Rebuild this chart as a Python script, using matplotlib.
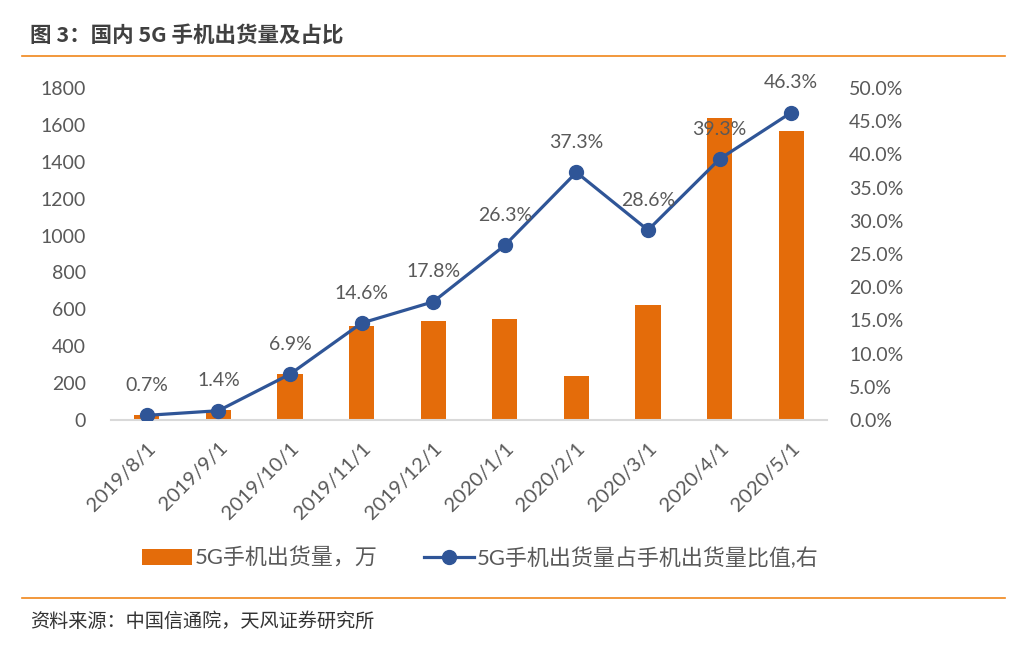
import matplotlib
matplotlib.use("Agg")
import matplotlib.pyplot as plt
from matplotlib.lines import Line2D
from matplotlib.patches import Patch
from matplotlib.ticker import FuncFormatter, MultipleLocator

plt.rcParams['font.family'] = ['Lato', 'Noto Sans CJK SC', 'DejaVu Sans']

categories = ["2019/8/1", "2019/9/1", "2019/10/1", "2019/11/1", "2019/12/1",
              "2020/1/1", "2020/2/1", "2020/3/1", "2020/4/1", "2020/5/1"]
shipments = [27, 52, 249, 507, 538, 546, 236, 622, 1639, 1567]
share_pct = [0.7, 1.4, 6.9, 14.6, 17.8, 26.3, 37.3, 28.6, 39.3, 46.3]

title = "图 3：国内 5G 手机出货量及占比"
source = "资料来源：中国信通院，天风证券研究所"
bar_label = "5G手机出货量，万"
line_label = "5G手机出货量占手机出货量比值,右"

ORANGE = "#E46C0A"
BLUE = "#2F5597"
GRAY = "#595959"
SEP = "#F0861A"

fig = plt.figure(figsize=(10.24, 6.47), dpi=100)
ax = fig.add_axes([111/1024, 1-420/647, (827-111)/1024, (420-88)/647])
x = list(range(len(categories)))
ax.bar(x, shipments, width=0.35, color=ORANGE, zorder=2)
ax.set_xlim(-0.5, len(categories)-0.5)
ax.set_ylim(0, 1800)
ax.yaxis.set_major_locator(MultipleLocator(200))
for s in ['top', 'left', 'right']:
    ax.spines[s].set_visible(False)
ax.spines['bottom'].set_color('#D9D9D9')
ax.spines['bottom'].set_linewidth(1.5)
ax.tick_params(axis='both', length=0, labelsize=14, labelcolor=GRAY)
ax.tick_params(axis='y', pad=18)
ax.set_xticks(x)
ax.set_xticklabels(categories, rotation=45, ha='right', va='top', rotation_mode='anchor')
ax.tick_params(axis='x', pad=14, labelsize=14.5)

ax2 = ax.twinx()
ax2.plot(x, [v/100 for v in share_pct], color=BLUE, lw=2.3, marker='o', markersize=10, zorder=3)
ax2.set_ylim(0, 0.5)
ax2.yaxis.set_major_locator(MultipleLocator(0.05))
ax2.yaxis.set_major_formatter(FuncFormatter(lambda v, p: f"{v*100:.1f}%"))
for s in ['top', 'left', 'right', 'bottom']:
    ax2.spines[s].set_visible(False)
ax2.tick_params(axis='y', length=0, labelsize=14, labelcolor=GRAY, pad=16)
for xi, v in zip(x, share_pct):
    ax2.annotate(f"{v:.1f}%", (xi, v/100), xytext=(0, 21.5), textcoords='offset points',
                 ha='center', va='center', fontsize=14, color=GRAY, zorder=4)

# title and separators
fig.text(30/1024, 1-35/647, title, fontsize=15.5, fontweight='bold', color='#404040',
         ha='left', va='center', family=['Noto Sans CJK SC', 'DejaVu Sans'])
fig.add_artist(Line2D([22/1024, 1005/1024], [1-56/647]*2, color=SEP, lw=1.2))
fig.add_artist(Line2D([22/1024, 1005/1024], [1-598/647]*2, color=SEP, lw=1.2))
fig.text(30/1024, 1-621/647, source, fontsize=13.8, color='#333333',
         ha='left', va='center', family=['Noto Sans CJK SC', 'DejaVu Sans'])

handles = [Patch(facecolor=ORANGE, edgecolor='none'),
           Line2D([0], [0], color=BLUE, lw=2.3, marker='o', markersize=10)]
fig.legend(handles, [bar_label, line_label], loc='center', bbox_to_anchor=(480/1024, 1-558/647),
           ncol=2, frameon=False, labelcolor=GRAY, handlelength=2.3,
           handleheight=0.7, handletextpad=0.1, columnspacing=2.1,
           prop={'family': ['Lato', 'Noto Sans CJK SC'], 'size': 15.8})

fig.savefig("out.png", dpi=100)
